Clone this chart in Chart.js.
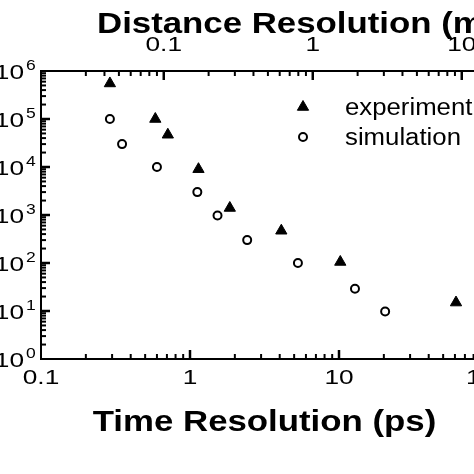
<!DOCTYPE html>
<html>
<head>
<meta charset="utf-8">
<title>Time / Distance Resolution</title>
<script src="https://cdn.jsdelivr.net/npm/chart.js@4/dist/chart.umd.min.js"></script>
<style>
  html, body { margin: 0; padding: 0; background: #fff; }
  #wrap { position: relative; width: 474px; height: 474px; overflow: hidden; }
  #chart { position: absolute; left: 0; top: 0; }
</style>
</head>
<body>
<div id="wrap">
  <canvas id="chart" width="530" height="474"></canvas>
</div>
<script>
// --- Data ---
// experiment: filled triangles
const expTime = [0.29, 0.585, 0.71, 1.14, 1.85, 4.1, 10.2, 61]
const expValue = [5.5e5, 1.0e5, 4.7e4, 9.0e3, 1.4e3, 470, 105, 15]

// simulation: open circles
const simTime = [0.29, 0.35, 0.6, 1.12, 1.53, 2.42, 5.3, 12.8, 20.4]
const simValue = [1.0e5, 3.0e4, 1.0e4, 3.0e3, 980, 300, 100, 29, 9.8]

// axes
const timeTicks = [0.1, 1, 10, 100]
const timeTickLabels = ['0.1', '1', '10', '100']
const distanceTicks = [0.1, 1, 10]
const distanceTickLabels = ['0.1', '1', '10']
const valueTicks = [1, 10, 100, 1e3, 1e4, 1e5, 1e6]
const valueExponents = ['0', '1', '2', '3', '4', '5', '6']
const mmPerPs = 0.15 // round trip at c: 1 ps -> 0.15 mm

const FONT = "'Liberation Sans', Arial, Helvetica, sans-serif"
const WIDE = 1.25 // the scanned figure is stretched sideways

// --- Helpers ---
function toPoints(xs, ys) {
  return xs.map((x, i) => ({ x: x, y: ys[i] }))
}

// draw text stretched horizontally like the scanned figure
function wideText(ctx, text, x, y, font, sx, align) {
  ctx.save()
  ctx.font = font
  ctx.fillStyle = '#000'
  ctx.textBaseline = 'alphabetic'
  ctx.textAlign = align || 'left'
  ctx.translate(x, y)
  ctx.scale(sx, 1)
  ctx.fillText(text, 0, 0)
  ctx.restore()
}

// --- Plugins ---
// inward tick marks: long on decades, short on 2..9
const innerTicks = {
  id: 'innerTicks',
  afterDraw(chart) {
    const ctx = chart.ctx
    const area = chart.chartArea
    ctx.save()
    ctx.strokeStyle = '#000'
    ;['x', 'x2', 'y'].forEach((id) => {
      const scale = chart.scales[id]
      scale.ticks.forEach((tick) => {
        const v = tick.value
        const mant = v / Math.pow(10, Math.floor(Math.log10(v) + 1e-9))
        if (Math.abs(mant - Math.round(mant)) > 1e-6) return // skip the 1.5 steps
        const major = Math.round(mant) === 1 || Math.round(mant) === 10
        const len = major ? 9 : 5
        const p = scale.getPixelForValue(v)
        ctx.lineWidth = major ? 2.5 : 2
        ctx.beginPath()
        if (id === 'y') {
          if (p < area.top + 1 || p > area.bottom - 1) return
          ctx.moveTo(area.left, p)
          ctx.lineTo(area.left + len, p)
        } else if (id === 'x') {
          if (p < area.left + 1 || p > area.right - 1) return
          ctx.moveTo(p, area.bottom)
          ctx.lineTo(p, area.bottom - len)
        } else {
          if (p < area.left + 1 || p > area.right - 1) return
          ctx.moveTo(p, area.top)
          ctx.lineTo(p, area.top + len)
        }
        ctx.stroke()
      })
    })
    ctx.restore()
  },
}

// tick labels, axis titles and the in-plot legend
const textLayer = {
  id: 'textLayer',
  afterDraw(chart) {
    const ctx = chart.ctx
    const area = chart.chartArea
    const tickFont = '21px ' + FONT

    timeTicks.forEach((v, i) => {
      const x = chart.scales.x.getPixelForValue(v)
      wideText(ctx, timeTickLabels[i], x, area.bottom + 25, tickFont, WIDE, 'center')
    })
    distanceTicks.forEach((v, i) => {
      const x = chart.scales.x2.getPixelForValue(v)
      wideText(ctx, distanceTickLabels[i], x, area.top - 20, tickFont, WIDE, 'center')
    })
    valueTicks.forEach((v, i) => {
      const y = chart.scales.y.getPixelForValue(v)
      wideText(ctx, '10', area.left - 17, y + 7.5, tickFont, WIDE, 'right')
      wideText(ctx, valueExponents[i], area.left - 15, y - 1, '14px ' + FONT, WIDE, 'left')
    })

    const bold = 'bold 30px ' + FONT
    wideText(ctx, 'Distance Resolution (mm)', area.left + 56, 33, bold, 1.16)
    wideText(ctx, 'Time Resolution (ps)', (area.left + area.right) / 2, 431, bold, 1.16, 'center')

    const rows = [
      { ds: chart.data.datasets[0], y: 107 },
      { ds: chart.data.datasets[1], y: 137 },
    ]
    rows.forEach((row) => {
      const ds = row.ds
      ctx.save()
      ctx.fillStyle = ds.backgroundColor
      ctx.strokeStyle = ds.borderColor
      ctx.lineWidth = ds.borderWidth
      Chart.helpers.drawPoint(ctx, {
        pointStyle: ds.pointStyle,
        radius: ds.pointRadius,
        rotation: 0,
        borderWidth: ds.borderWidth,
      }, 303, row.y)
      ctx.restore()
      wideText(ctx, ds.label, 345, row.y + 8, '23px ' + FONT, 1.12)
    })
  },
}

// --- Chart ---
document.addEventListener('DOMContentLoaded', () => {
  const canvas = document.getElementById('chart')

  const axisBase = {
    type: 'logarithmic',
    grid: { drawOnChartArea: false, drawTicks: false },
    border: { display: true, color: '#000', width: 2 },
    ticks: { display: false, autoSkip: false },
  }

  new Chart(canvas, {
    type: 'scatter',
    data: {
      datasets: [
        {
          label: 'experiment',
          data: toPoints(expTime, expValue),
          pointStyle: 'triangle',
          pointRadius: 6.5,
          backgroundColor: '#000',
          borderColor: '#000',
          borderWidth: 1,
        },
        {
          label: 'simulation',
          data: toPoints(simTime, simValue),
          pointStyle: 'circle',
          pointRadius: 4,
          backgroundColor: '#fff',
          borderColor: '#000',
          borderWidth: 2,
        },
      ],
    },
    options: {
      responsive: false,
      animation: false,
      layout: { padding: { right: 42, left: 0, top: 0, bottom: 0 } },
      plugins: {
        legend: { display: false },
        tooltip: { enabled: false },
      },
      scales: {
        x: {
          ...axisBase,
          position: 'bottom',
          min: timeTicks[0],
          max: timeTicks[timeTicks.length - 1],
          afterFit(scale) { scale.height = 115 },
        },
        x2: {
          ...axisBase,
          axis: 'x',
          position: 'top',
          min: timeTicks[0] * mmPerPs,
          max: timeTicks[timeTicks.length - 1] * mmPerPs,
          afterFit(scale) { scale.height = 71 },
        },
        y: {
          ...axisBase,
          position: 'left',
          min: valueTicks[0],
          max: valueTicks[valueTicks.length - 1],
          afterFit(scale) { scale.width = 41 },
        },
      },
    },
    plugins: [innerTicks, textLayer],
  })
})
</script>
</body>
</html>
